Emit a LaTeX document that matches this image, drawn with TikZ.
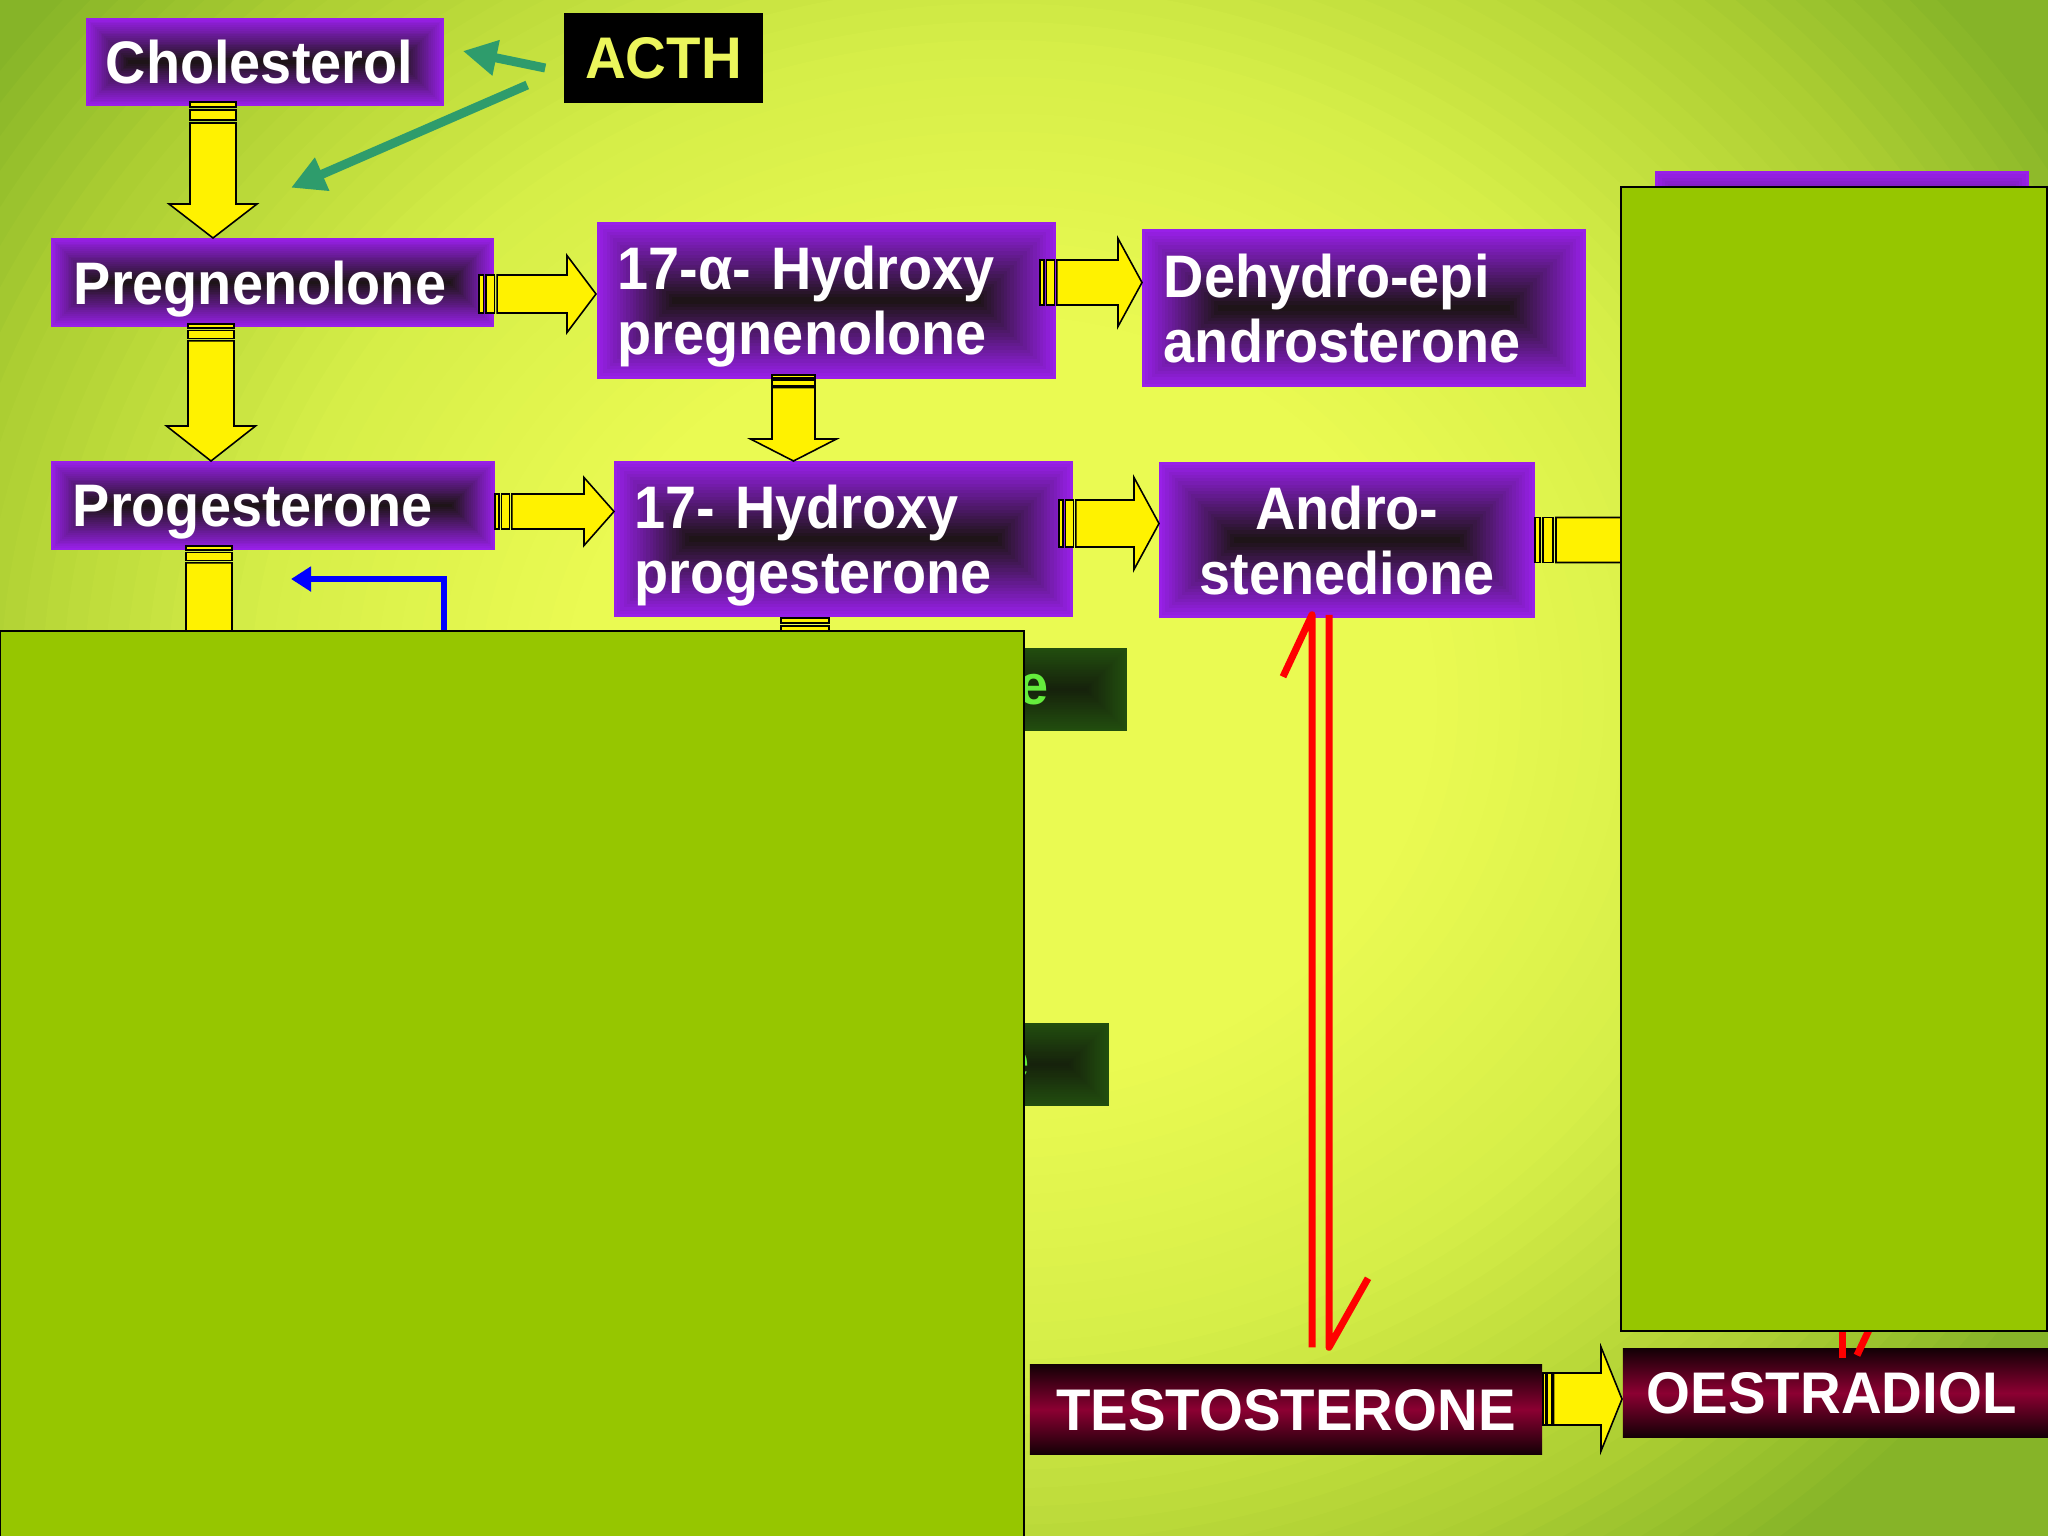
\documentclass[tikz,border=0pt]{standalone}
\usepackage{fontspec}
\setmainfont{Liberation Sans}
\newfontfamily\boxfont[FakeStretch=0.93]{Liberation Sans Bold}
\newfontfamily\boxfontB[FakeStretch=0.96]{Liberation Sans Bold}
\usetikzlibrary{arrows.meta,calc}

\definecolor{bgA}{RGB}{234,250,82}
\definecolor{bgB}{RGB}{214,238,72}
\definecolor{bgC}{RGB}{172,206,50}
\definecolor{bgD}{RGB}{134,180,40}
\definecolor{purpout}{RGB}{152,32,232}
\definecolor{purpin}{RGB}{30,20,24}
\definecolor{grout}{RGB}{34,78,14}
\definecolor{grin}{RGB}{22,34,12}
\definecolor{coverg}{RGB}{150,198,0}
\definecolor{tealc}{RGB}{46,156,108}
\definecolor{acthy}{RGB}{236,246,92}
\definecolor{crim}{RGB}{140,0,50}
\definecolor{darkr}{RGB}{20,0,6}
\definecolor{egreen}{RGB}{100,236,60}

\newcommand{\gradfill}[2]{%
  \pgfpointdiff{\pgfpointanchor{path picture bounding box}{south west}}%
               {\pgfpointanchor{path picture bounding box}{north east}}%
  \pgfgetlastxy{\gfw}{\gfh}%
  \foreach \gfi in {0,...,23}{%
    \pgfmathsetmacro{\gfd}{\gfi*\gfh/48}%
    \pgfmathsetmacro{\gfp}{100*\gfi/23}%
    \fill[#2!\gfp!#1] ([shift={(\gfd pt,\gfd pt)}]path picture bounding box.south west) rectangle ([shift={(-\gfd pt,-\gfd pt)}]path picture bounding box.north east);
  }}

% striped block arrow: x0,y0,angle,length,shaft half,head half,head length,stripe unit
\newcommand{\sarrow}[8]{%
  \begin{scope}[shift={(#1,#2)},rotate=#3]
    \filldraw[yarr] (0,-#5) rectangle (#8,#5);
    \filldraw[yarr] (1.6*#8,-#5) rectangle (3.6*#8,#5);
    \filldraw[yarr] (4.2*#8,-#5) -- (#4-#7,-#5) -- (#4-#7,-#6) -- (#4,0) -- (#4-#7,#6) -- (#4-#7,#5) -- (4.2*#8,#5) -- cycle;
  \end{scope}}

\tikzset{
  yarr/.style={fill=yellow, draw=black, line width=0.45pt},
  pbox/.style={rectangle, inner ysep=0pt, text=white,
    font=\boxfont\fontsize{17.07}{18.5}\selectfont,
    path picture={\gradfill{purpout}{purpin}}},
  gbox/.style={rectangle, inner ysep=0pt, text=egreen, text depth=0pt, align=right,
    font=\boxfontB\fontsize{16}{18}\selectfont,
    path picture={\gradfill{grout}{grin}}},
  rbox/.style={rectangle, inner ysep=0pt, text=white, text depth=0pt,
    top color=darkr, bottom color=darkr, middle color=crim,
    font=\boxfontB\fontsize{16.7}{18}\selectfont},
  acthbox/.style={rectangle, fill=black, inner ysep=0pt, text=acthy, text depth=0pt, align=center,
    font=\boxfontB\fontsize{16.7}{18}\selectfont},
  cover/.style={fill=coverg, draw=black, line width=0.6pt},
  tealarr/.style={draw=tealc, line width=0.9mm, -{Triangle[length=3.4mm,width=3.4mm]}},
  bluearr/.style={draw=blue, line width=0.6mm, -{Triangle[length=2mm,width=2.4mm]}},
  redl/.style={draw=red, line width=0.7mm, line join=round},
  one/.style={text depth=0pt},
  two/.style={text depth=6.5mm},
}

\begin{document}
\begin{tikzpicture}[x=0.01cm,y=-0.01cm]
\useasboundingbox (0,0) rectangle (2048,1536);
% background: stepped elliptical gradient
\fill[bgD] (0,0) rectangle (2048,1536);
\foreach \k in {0,...,68}{%
  \pgfmathsetmacro{\bt}{1.15-\k/60}%
  \pgfmathsetmacro{\pa}{100*min(1,max(0,(\bt-0.85)/0.15))}%
  \pgfmathsetmacro{\pb}{100*min(1,max(0,(\bt-0.6)/0.25))}%
  \pgfmathsetmacro{\pc}{100*min(1,max(0,(\bt-0.35)/0.25))}%
  \ifdim\bt pt>0.85pt
    \fill[bgD!\pa!bgC] (1000,700) ellipse ({1250*\bt} and {1100*\bt});
  \else\ifdim\bt pt>0.6pt
    \fill[bgC!\pb!bgB] (1000,700) ellipse ({1250*\bt} and {1100*\bt});
  \else
    \fill[bgB!\pc!bgA] (1000,700) ellipse ({1250*\bt} and {1100*\bt});
  \fi\fi
}

% hidden box behind right cover
\node[pbox, text width=37.4mm, inner xsep=0pt, minimum height=16mm] (hid) at (1842,251) {};

% boxes
\node[pbox, one, align=left, inner xsep=2mm, text width=31.8mm, minimum height=8.8mm] (chol) at (265,62) {Cholesterol};
\node[acthbox, inner xsep=2mm, text width=15.9mm, minimum height=9mm] (acth) at (663.5,58) {ACTH};
\node[pbox, one, align=left, inner xsep=2.3mm, text width=39.7mm, minimum height=8.9mm] (preg) at (272.5,282.5) {Pregnenolone};
\node[pbox, one, align=left, inner xsep=2.2mm, text width=40mm, minimum height=8.9mm] (prog) at (273,505.5) {Progesterone};
\node[pbox, two, align=left, inner xsep=2.1mm, text width=41.7mm, minimum height=15.7mm] (ohpreg) at (826.5,300.5) {17-α- Hydroxy\\pregnenolone};
\node[pbox, two, align=left, inner xsep=2.1mm, text width=41.7mm, minimum height=15.6mm] (ohprog) at (843.5,539) {17- Hydroxy\\progesterone};
\node[pbox, two, align=left, inner xsep=2.2mm, text width=40mm, minimum height=15.8mm] (dhea) at (1364,308) {Dehydro-epi\\androsterone};
\node[pbox, two, align=center, inner xsep=2mm, text width=33.6mm, minimum height=15.6mm] (andro) at (1347,540) {Andro-\\stenedione};

\node[gbox, inner xsep=7.9mm, text width=11.9mm, minimum height=8.3mm] (ga) at (988.5,689.5) {e};
\node[gbox, inner xsep=7.9mm, text width=10.1mm, minimum height=8.3mm] (gb) at (979.5,1064.5) {e};

\node[rbox, align=center, inner xsep=2mm, text width=47.2mm, minimum height=8.9mm] (testo) at (1286,1409.5) {TESTOSTERONE};
\node[rbox, align=left, inner xsep=2.4mm, text width=38.9mm, minimum height=8.8mm] (oestr) at (1841.5,1393) {OESTRADIOL};

% yellow striped arrows
\sarrow{213}{102}{-90}{136}{23}{44}{34}{5}
\sarrow{211}{324}{-90}{137}{23}{44.5}{35}{4}
\sarrow{793.5}{375}{-90}{86}{21.5}{43}{22}{3}
\sarrow{209}{546}{-90}{200}{23}{44}{34}{4}
\sarrow{805}{618}{-90}{200}{24}{45}{34}{5}
\sarrow{479}{294}{0}{117}{19}{38.5}{29}{4.3}
\sarrow{495}{511.5}{0}{119}{17.5}{34}{30}{4}
\sarrow{1040}{282.5}{0}{102}{22.5}{44}{24}{4}
\sarrow{1059}{523.5}{0}{100}{23.5}{46}{25}{4}
\sarrow{1535}{540}{0}{200}{22.5}{45}{25}{5}
\sarrow{1543}{1399}{0}{79}{26}{52}{21}{2.5}

% ACTH arrows
\draw[tealarr] ($(acth.west)+(-18,10)$) -- ($(chol.east)+(18,-11)$);
\draw[tealarr] ($(acth.west)+(-36,27)$) -- ($(chol.south)+(26,81)$);

% red half-arrows
\draw[redl] ($(testo.north)+(26,-17)$) -- ($(andro.south)+(-35,-4)$) -- ($(andro.south)+(-64,58)$);
\draw[redl] ($(andro.south)+(-18,-4)$) -- ($(testo.north)+(43,-17)$) -- ($(testo.north)+(82,-86)$);
\draw[redl] ($(oestr.north)+(0.5,-30)$) -- ($(oestr.north)+(0.5,10)$);
\draw[redl] ($(oestr.north)+(15.5,7)$) -- ($(oestr.north)+(40,-45)$);

% blue arrow
\coordinate (bstart) at (444,640);
\coordinate (bend) at (291,579);
\draw[bluearr] (bstart) |- (bend);

% covering panels
\draw[cover] (0,631) rectangle (1024,1545);
\draw[cover] (1621,187) rectangle (2047,1331);
\end{tikzpicture}
\end{document}
